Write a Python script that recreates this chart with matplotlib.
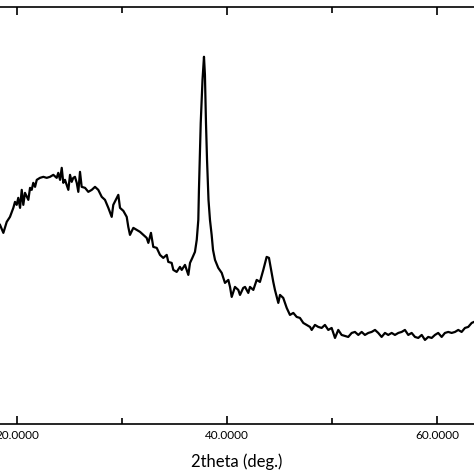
import matplotlib
matplotlib.use("Agg")
import matplotlib.pyplot as plt
from matplotlib.ticker import FixedLocator, FormatStrFormatter

# XRD pattern (2theta in degrees, intensity in counts)
two_theta = [
    18.35, 18.67, 18.99, 19.30, 19.62, 19.78, 19.94, 20.09, 20.26, 20.42,
    20.57, 20.73, 21.05, 21.21, 21.37, 21.52, 21.69, 21.85, 22.16, 22.48,
    22.80, 23.11, 23.43, 23.75, 23.90, 24.07, 24.23, 24.38, 24.54, 24.86,
    25.02, 25.18, 25.33, 25.49, 25.66, 25.81, 25.97, 26.13, 26.45, 26.76,
    27.09, 27.40, 27.71, 28.04, 28.35, 28.67, 28.99, 29.14, 29.47, 29.62,
    29.78, 30.10, 30.42, 30.57, 30.73, 31.05, 31.37, 31.69, 32.00, 32.32,
    32.48, 32.73, 32.95, 33.28, 33.59, 33.90, 34.23, 34.38, 34.70, 34.86,
    35.18, 35.49, 35.66, 35.97, 36.13, 36.29, 36.45, 36.67, 36.92, 37.09,
    37.24, 37.30, 37.47, 37.64, 37.78, 37.87, 37.97, 38.07, 38.21, 38.35,
    38.51, 38.64, 38.83, 39.14, 39.47, 39.78, 40.10, 40.26, 40.42, 40.73,
    41.05, 41.21, 41.52, 41.69, 42.00, 42.16, 42.48, 42.80, 43.11, 43.43,
    43.75, 43.97, 44.23, 44.38, 44.54, 44.86, 45.02, 45.33, 45.66, 45.97,
    46.29, 46.61, 46.92, 47.24, 47.56, 47.88, 48.04, 48.35, 48.67, 48.99,
    49.30, 49.62, 49.94, 50.26, 50.57, 50.89, 51.21, 51.52, 51.85, 52.16,
    52.48, 52.80, 53.11, 53.43, 53.75, 54.07, 54.38, 54.70, 55.02, 55.33,
    55.66, 55.97, 56.29, 56.61, 56.92, 57.24, 57.56, 57.88, 58.19, 58.52,
    58.83, 59.14, 59.47, 59.78, 60.09, 60.42, 60.73, 61.05, 61.37, 61.69,
    62.00, 62.32, 62.64, 62.95, 63.28, 63.50,
]
intensity = [
    995, 955, 1010, 1035, 1080, 1110, 1095, 1130, 1080, 1170,
    1095, 1155, 1120, 1180, 1170, 1205, 1185, 1220, 1230, 1235,
    1230, 1235, 1245, 1230, 1255, 1220, 1280, 1205, 1220, 1170,
    1245, 1210, 1230, 1235, 1205, 1160, 1260, 1185, 1180, 1160,
    1170, 1185, 1170, 1135, 1120, 1080, 1035, 1095, 1130, 1145,
    1080, 1065, 1035, 985, 945, 980, 970, 960, 945, 930,
    905, 955, 885, 880, 845, 830, 845, 810, 805, 770,
    760, 785, 770, 795, 770, 745, 805, 830, 860, 920,
    1020, 1170, 1505, 1720, 1835, 1745, 1505, 1320, 1120, 1020,
    945, 870, 820, 780, 755, 705, 720, 685, 635, 685,
    670, 645, 680, 685, 655, 685, 670, 720, 710, 770,
    835, 830, 755, 710, 670, 605, 645, 630, 580, 545,
    555, 535, 530, 505, 495, 485, 470, 495, 485, 480,
    495, 470, 480, 430, 470, 445, 440, 435, 455, 460,
    445, 460, 445, 455, 460, 470, 455, 435, 455, 445,
    455, 445, 455, 460, 470, 445, 455, 435, 430, 445,
    420, 435, 430, 445, 455, 435, 455, 460, 455, 460,
    470, 460, 480, 485, 505, 510,
]

major_ticks = [20, 40, 60]
minor_ticks = [30, 50]
x_label = "2theta (deg.)"

plt.rcParams["font.family"] = ["Lato", "DejaVu Sans"]

fig = plt.figure(figsize=(4.74, 4.74), dpi=100)
ax = fig.add_axes([0.0, 0.1055, 1.0, 0.879])

ax.plot(two_theta, intensity, color="black", lw=1.6)

ax.set_xlim(18.35, 63.5)
ax.set_ylim(0, 2082)

for side in ("left", "right"):
    ax.spines[side].set_visible(False)
for side in ("top", "bottom"):
    ax.spines[side].set_linewidth(1.2)

ax.xaxis.set_major_locator(FixedLocator(major_ticks))
ax.xaxis.set_minor_locator(FixedLocator(minor_ticks))
ax.xaxis.set_major_formatter(FormatStrFormatter("%.4f"))
ax.tick_params(axis="x", which="both", direction="in", top=True, bottom=True,
               width=1.2, labelsize=8.5, pad=4)
ax.tick_params(axis="x", which="major", length=6)
ax.tick_params(axis="x", which="minor", length=4.5)
ax.set_yticks([])

ax.set_xlabel(x_label, fontsize=12, labelpad=9)

fig.savefig("out.png", dpi=100)
